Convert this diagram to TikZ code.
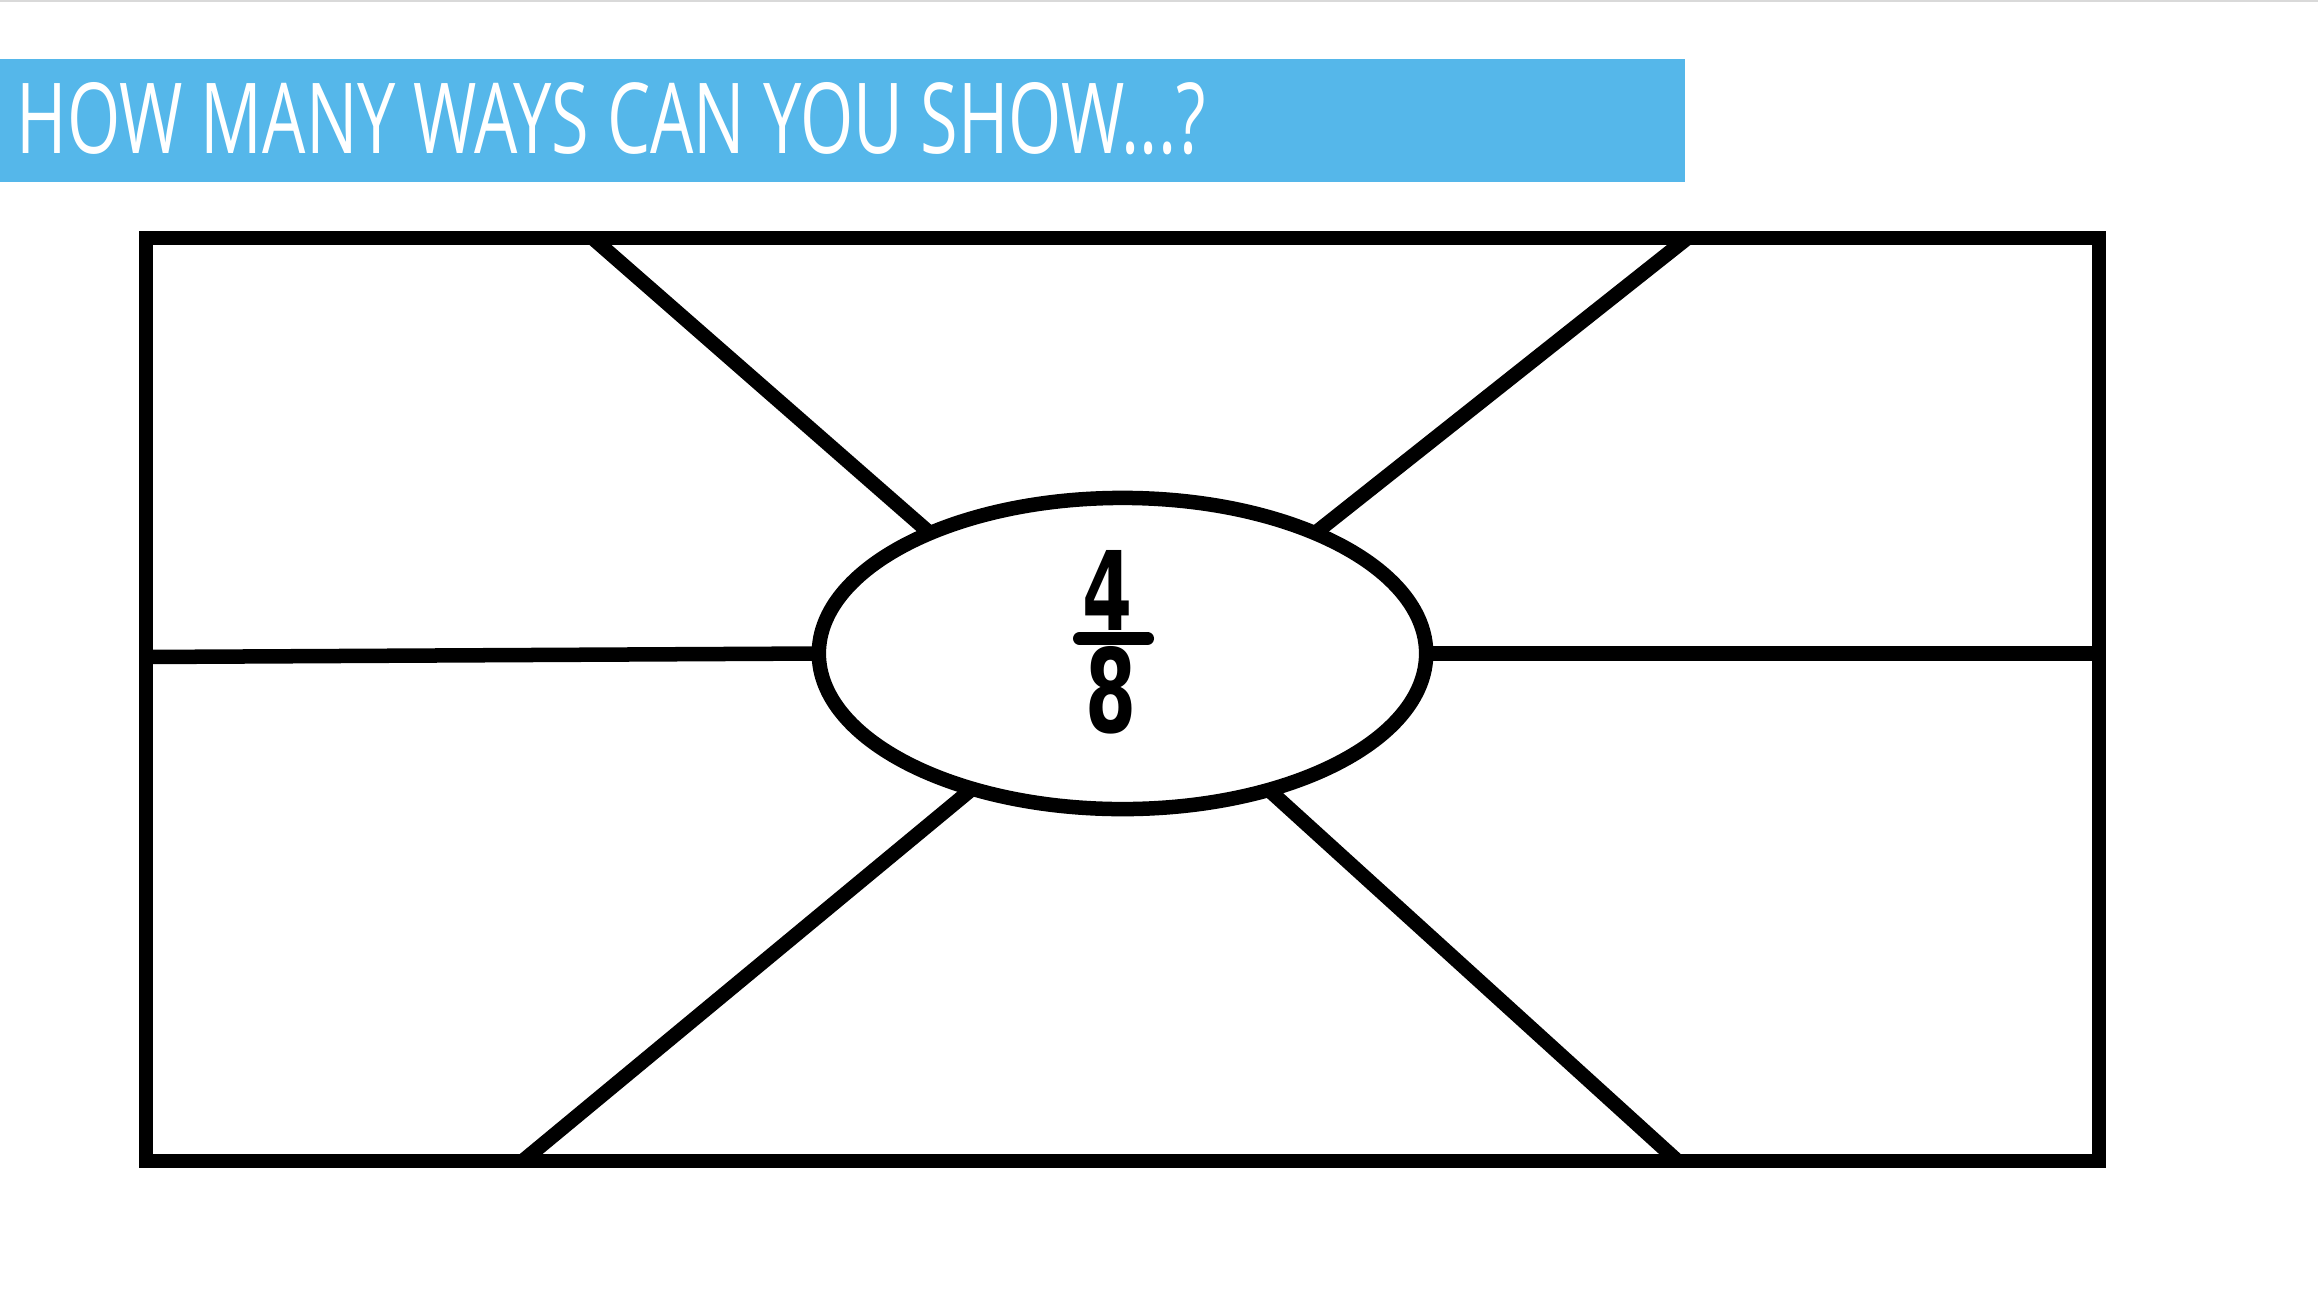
\documentclass[tikz,border=0pt]{standalone}
\usepackage{fontspec}
\newfontfamily\titlefont{Open Sans}
\newfontfamily\digitfont{DejaVu Sans}
\usetikzlibrary{shapes.geometric}
\definecolor{bannerblue}{RGB}{85,183,234}
\tikzset{
  frame/.style={line width=0.145cm, line cap=butt},
  oval/.style={draw, ellipse, line width=0.145cm, fill=white, minimum width=6.07cm, minimum height=3.11cm, inner sep=0pt, outer sep=0pt},
  digit/.style={inner sep=0pt, outer sep=0pt}
}

\begin{document}
\begin{tikzpicture}[x=0.01cm,y=-0.01cm]
    \useasboundingbox (0,0) rectangle (2318,1306);
    \fill[white] (0,0) rectangle (2318,1306);
    \fill[black!15] (0,0) rectangle (2318,2.5);
    \fill[bannerblue] (0,59) rectangle (1685,182);
    \node[anchor=west, inner sep=0pt, text=white] (title) at (16,118.5) {\resizebox{11.88cm}{0.71cm}{\titlefont HOW MANY WAYS CAN YOU SHOW...?}};
    \draw[frame] (146,238) rectangle (2099,1161);
    \node[oval] (oval) at (1122.5,653.5) {};
    \coordinate (topl) at (592.5,238);
    \coordinate (topr) at (1687.5,238);
    \coordinate (midl) at (146,657);
    \coordinate (midr) at (2099,653.5);
    \coordinate (botl) at (522.7,1161);
    \coordinate (botr) at (1677.6,1161);
    \draw[frame] (topl) -- (oval.148);
    \draw[frame] (topr) -- (oval.32);
    \draw[frame] (midl) -- (oval.west);
    \draw[frame] (oval.east) -- (midr);
    \draw[frame] (botl) -- (oval.222);
    \draw[frame] (botr) -- (oval.317);
    \node[digit] (four) at (1108,590) {\resizebox{0.5cm}{0.8cm}{\digitfont\bfseries 4}};
    \node[digit] (eight) at (1111.5,690) {\resizebox{0.51cm}{0.86cm}{\digitfont\bfseries 8}};
    \draw[line width=0.13cm, line cap=round] (1079.5,638.5) -- (1147.5,638.5);
\end{tikzpicture}
\end{document}
